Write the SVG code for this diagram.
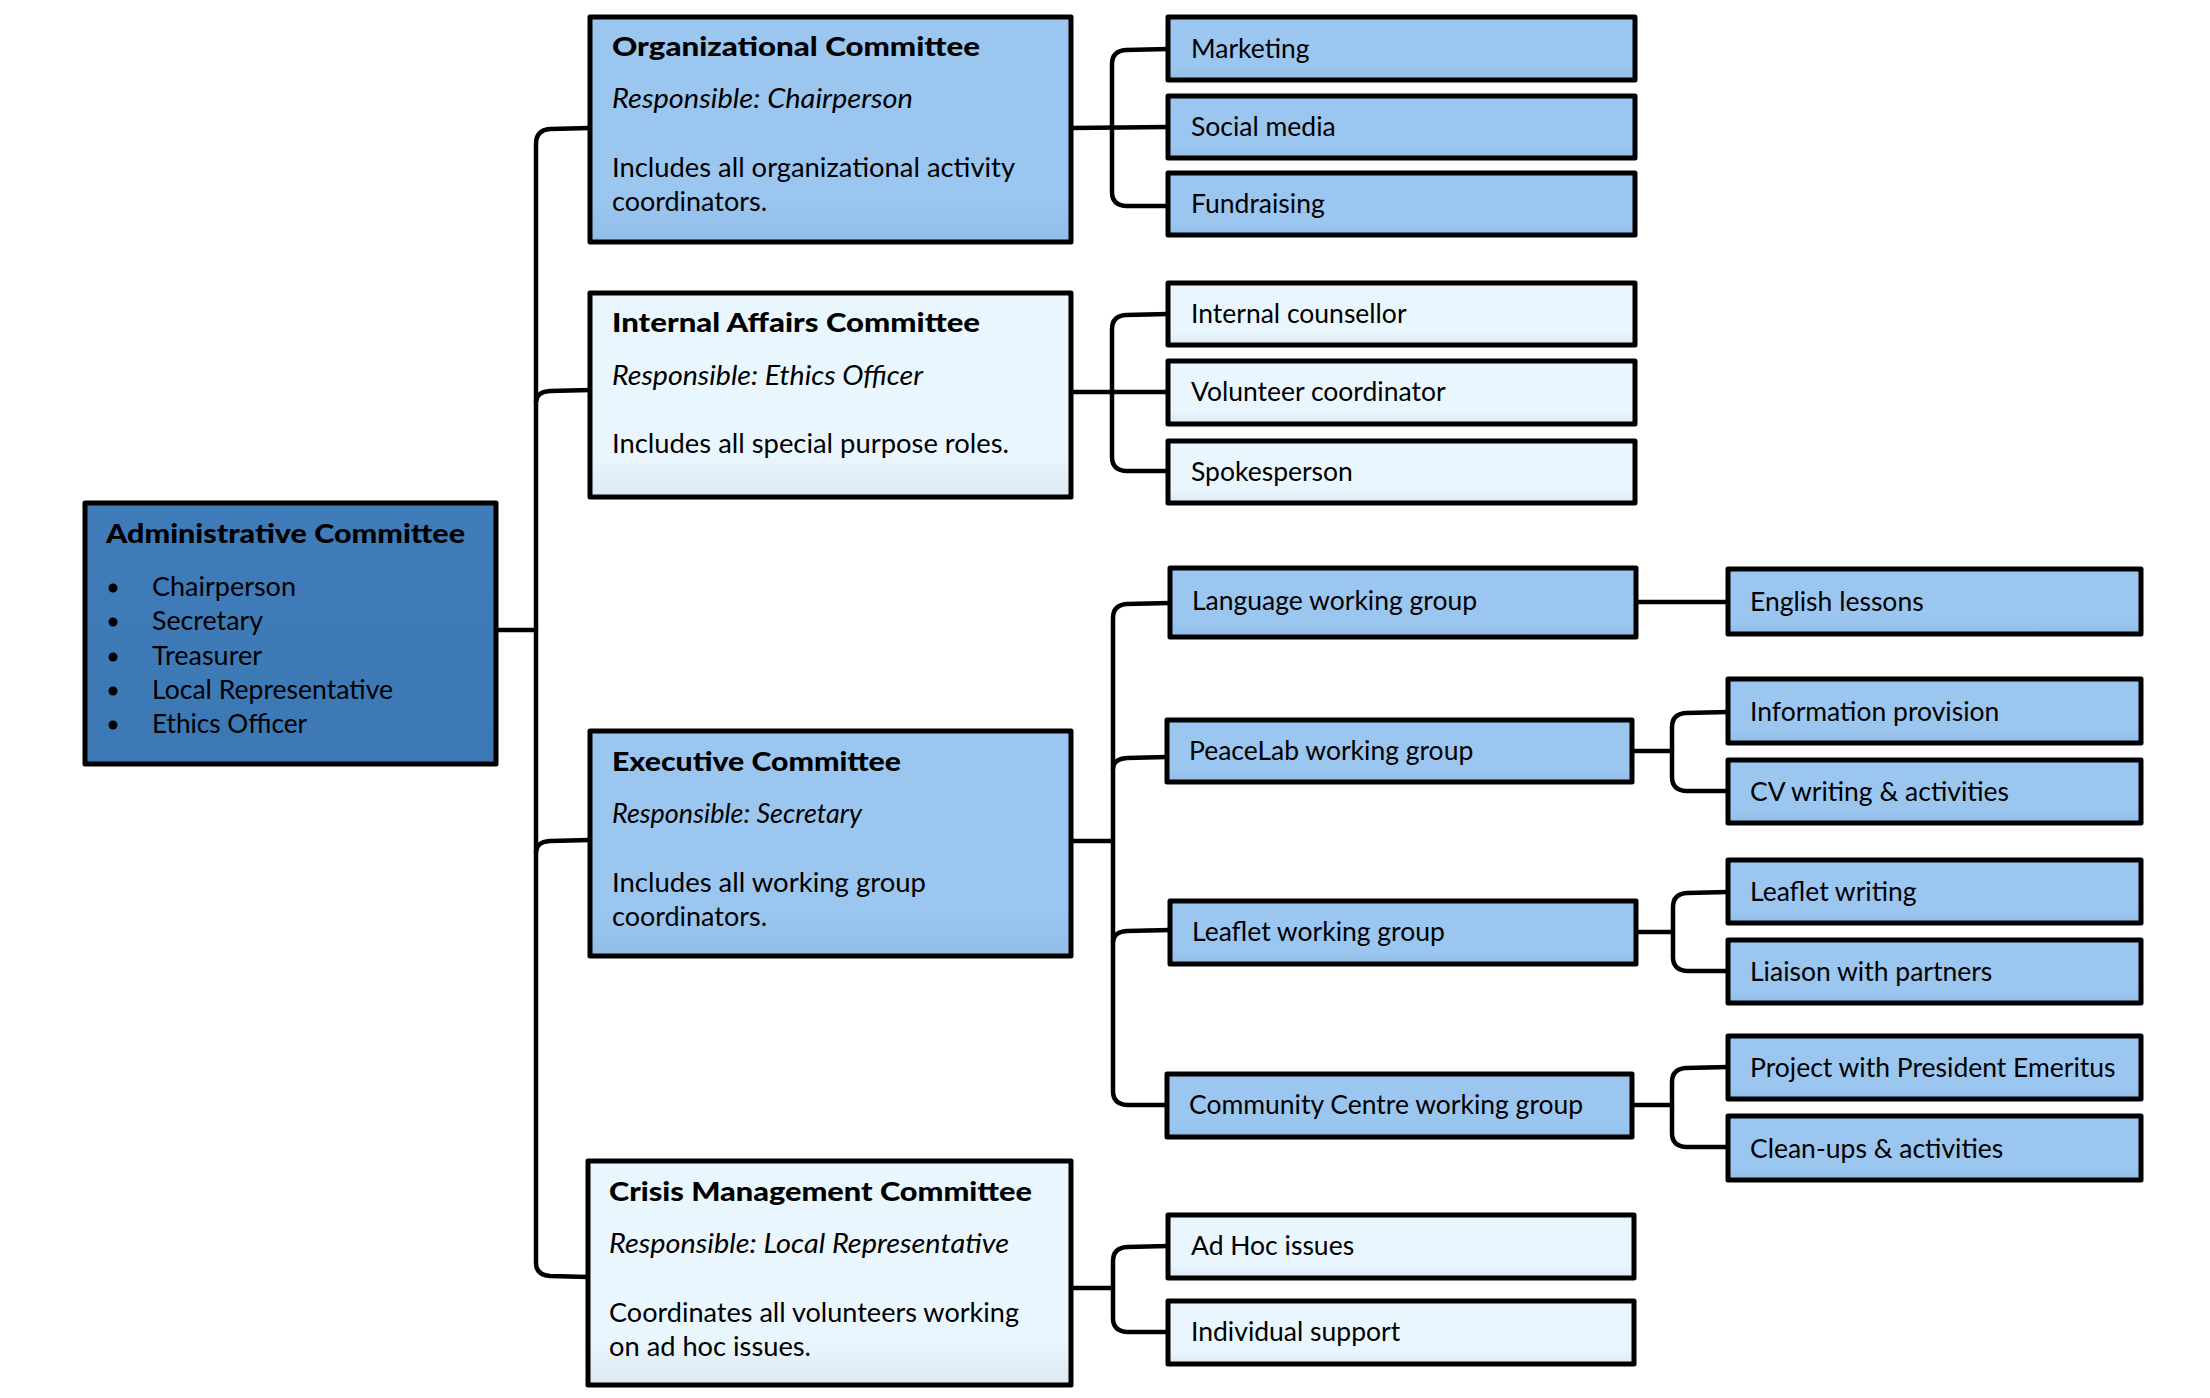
<svg xmlns="http://www.w3.org/2000/svg" width="2210" height="1398" viewBox="0 0 2210 1398">
<defs>
<linearGradient id="gMid" x1="0" y1="0" x2="0" y2="1">
<stop offset="0" stop-color="#9ac6ef"/><stop offset="0.8" stop-color="#9ac6ef"/><stop offset="1" stop-color="#92bde6"/>
</linearGradient>
<linearGradient id="gLight" x1="0" y1="0" x2="0" y2="1">
<stop offset="0" stop-color="#e9f6fe"/><stop offset="0.8" stop-color="#e9f6fe"/><stop offset="1" stop-color="#dce8f2"/>
</linearGradient>
<linearGradient id="gDark" x1="0" y1="0" x2="0" y2="1">
<stop offset="0" stop-color="#3f7cb9"/><stop offset="1" stop-color="#3c78b4"/>
</linearGradient>
</defs>
<style>
rect.b{stroke:#000;stroke-width:5;stroke-linejoin:round}
.mid{fill:url(#gMid)}
.light{fill:url(#gLight)}
.dark{fill:url(#gDark)}
text{font-family:Lato,"Liberation Sans",sans-serif;font-size:26.5px;fill:#000}
.t{font-weight:900;font-size:27px}
.i{font-style:italic}
#connectors path{fill:none;stroke:#000;stroke-width:4.5;stroke-linecap:round;stroke-linejoin:round}
</style>
<rect width="2210" height="1398" fill="#fff"/>

<g id="connectors">
<path d="M496,630 L536,630"/>
<path d="M590,128 L550,129 Q536,130 536,144 L536,1263 Q536,1275 550,1276 L588,1277"/>
<path d="M536,402 Q536,392 550,391 L590,390"/>
<path d="M536,852 Q536,842 550,841 L590,840"/>

<path d="M1071,128 L1168,127"/>
<path d="M1168,49 L1126,50 Q1112,51 1112,64 L1112,192 Q1112,205 1126,206 L1168,206"/>
<path d="M1071,392 L1168,392"/>
<path d="M1168,314 L1126,315 Q1112,316 1112,329 L1112,457 Q1112,470 1126,471 L1168,471"/>

<path d="M1071,841 L1113,841"/>
<path d="M1170,603 L1127,604 Q1113,605 1113,618 L1113,1091 Q1113,1104 1127,1105 L1167,1105"/>
<path d="M1113,769 Q1113,759 1127,758 L1167,757"/>
<path d="M1113,942 Q1113,932 1127,931 L1170,930"/>

<path d="M1071,1288 L1113,1288"/>
<path d="M1168,1246 L1127,1247 Q1113,1248 1113,1261 L1113,1318 Q1113,1331 1127,1332 L1168,1332"/>

<path d="M1636,602 L1728,602"/>
<path d="M1632,751 L1672,751"/>
<path d="M1728,712 L1686,713 Q1672,714 1672,727 L1672,777 Q1672,790 1686,791 L1728,791"/>
<path d="M1636,932 L1673,932"/>
<path d="M1728,892 L1687,893 Q1673,894 1673,907 L1673,957 Q1673,970 1687,971 L1728,971"/>
<path d="M1632,1105 L1672,1105"/>
<path d="M1728,1067 L1686,1068 Q1672,1069 1672,1082 L1672,1133 Q1672,1146 1686,1147 L1728,1147"/>
</g>

<g id="admin">
<rect class="b dark" x="85" y="503" width="411" height="261"/>
<text class="t" x="106" y="543" textLength="359" lengthAdjust="spacingAndGlyphs">Administrative Committee</text>
<circle cx="113" cy="588" r="4.5"/><text x="152" y="596" textLength="144" lengthAdjust="spacingAndGlyphs">Chairperson</text>
<circle cx="113" cy="622" r="4.5"/><text x="152" y="630" textLength="111" lengthAdjust="spacingAndGlyphs">Secretary</text>
<circle cx="113" cy="657" r="4.5"/><text x="152" y="665" textLength="110" lengthAdjust="spacingAndGlyphs">Treasurer</text>
<circle cx="113" cy="691" r="4.5"/><text x="152" y="699" textLength="241" lengthAdjust="spacingAndGlyphs">Local Representative</text>
<circle cx="113" cy="725" r="4.5"/><text x="152" y="733" textLength="155" lengthAdjust="spacingAndGlyphs">Ethics Officer</text>
</g>

<g id="org">
<rect class="b mid" x="590" y="17" width="481" height="225"/>
<text class="t" x="612" y="56" textLength="368" lengthAdjust="spacingAndGlyphs">Organizational Committee</text>
<text class="i" x="612" y="108" textLength="301" lengthAdjust="spacingAndGlyphs">Responsible: Chairperson</text>
<text x="612" y="177" textLength="403" lengthAdjust="spacingAndGlyphs">Includes all organizational activity</text>
<text x="612" y="211" textLength="155" lengthAdjust="spacingAndGlyphs">coordinators.</text>
</g>

<g id="internal">
<rect class="b light" x="590" y="293" width="481" height="204"/>
<text class="t" x="612" y="332" textLength="368" lengthAdjust="spacingAndGlyphs">Internal Affairs Committee</text>
<text class="i" x="612" y="385" textLength="311" lengthAdjust="spacingAndGlyphs">Responsible: Ethics Officer</text>
<text x="612" y="453" textLength="397" lengthAdjust="spacingAndGlyphs">Includes all special purpose roles.</text>
</g>

<g id="executive">
<rect class="b mid" x="590" y="731" width="481" height="225"/>
<text class="t" x="612" y="771" textLength="289" lengthAdjust="spacingAndGlyphs">Executive Committee</text>
<text class="i" x="612" y="823" textLength="250" lengthAdjust="spacingAndGlyphs">Responsible: Secretary</text>
<text x="612" y="892" textLength="314" lengthAdjust="spacingAndGlyphs">Includes all working group</text>
<text x="612" y="926" textLength="155" lengthAdjust="spacingAndGlyphs">coordinators.</text>
</g>

<g id="crisis">
<rect class="b light" x="588" y="1161" width="483" height="224"/>
<text class="t" x="609" y="1201" textLength="423" lengthAdjust="spacingAndGlyphs">Crisis Management Committee</text>
<text class="i" x="609" y="1253" textLength="400" lengthAdjust="spacingAndGlyphs">Responsible: Local Representative</text>
<text x="609" y="1322" textLength="410" lengthAdjust="spacingAndGlyphs">Coordinates all volunteers working</text>
<text x="609" y="1356" textLength="202" lengthAdjust="spacingAndGlyphs">on ad hoc issues.</text>
</g>

<g id="marketing"><rect class="b mid" x="1168" y="17" width="467" height="63"/><text x="1191" y="58">Marketing</text></g>
<g id="social-media"><rect class="b mid" x="1168" y="96" width="467" height="62"/><text x="1191" y="136">Social media</text></g>
<g id="fundraising"><rect class="b mid" x="1168" y="173" width="467" height="62"/><text x="1191" y="213">Fundraising</text></g>

<g id="internal-counsellor"><rect class="b light" x="1168" y="283" width="467" height="62"/><text x="1191" y="323">Internal counsellor</text></g>
<g id="volunteer-coordinator"><rect class="b light" x="1168" y="361" width="467" height="63"/><text x="1191" y="401">Volunteer coordinator</text></g>
<g id="spokesperson"><rect class="b light" x="1168" y="441" width="467" height="62"/><text x="1191" y="481">Spokesperson</text></g>

<g id="language-wg"><rect class="b mid" x="1170" y="568" width="466" height="69"/><text x="1192" y="610">Language working group</text></g>
<g id="peacelab-wg"><rect class="b mid" x="1167" y="720" width="465" height="62"/><text x="1189" y="760">PeaceLab working group</text></g>
<g id="leaflet-wg"><rect class="b mid" x="1170" y="901" width="466" height="63"/><text x="1192" y="941">Leaflet working group</text></g>
<g id="community-wg"><rect class="b mid" x="1167" y="1074" width="465" height="63"/><text x="1189" y="1114">Community Centre working group</text></g>

<g id="adhoc"><rect class="b light" x="1168" y="1215" width="466" height="63"/><text x="1191" y="1255">Ad Hoc issues</text></g>
<g id="individual"><rect class="b light" x="1168" y="1301" width="466" height="63"/><text x="1191" y="1341">Individual support</text></g>

<g id="english"><rect class="b mid" x="1728" y="569" width="413" height="65"/><text x="1750" y="611">English lessons</text></g>
<g id="info"><rect class="b mid" x="1728" y="679" width="413" height="64"/><text x="1750" y="721">Information provision</text></g>
<g id="cv"><rect class="b mid" x="1728" y="760" width="413" height="63"/><text x="1750" y="801">CV writing &amp; activities</text></g>
<g id="leaflet-writing"><rect class="b mid" x="1728" y="860" width="413" height="63"/><text x="1750" y="901">Leaflet writing</text></g>
<g id="liaison"><rect class="b mid" x="1728" y="940" width="413" height="63"/><text x="1750" y="981">Liaison with partners</text></g>
<g id="project"><rect class="b mid" x="1728" y="1036" width="413" height="63"/><text x="1750" y="1077">Project with President Emeritus</text></g>
<g id="cleanups"><rect class="b mid" x="1728" y="1116" width="413" height="64"/><text x="1750" y="1158">Clean-ups &amp; activities</text></g>
</svg>
